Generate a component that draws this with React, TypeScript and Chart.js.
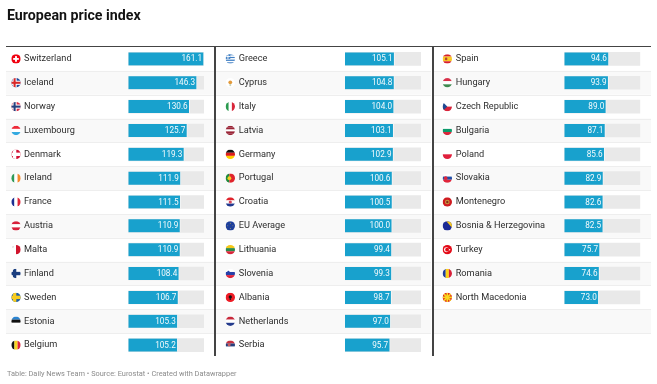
import React, { useEffect, useRef } from "react";
import { Chart, registerables } from "chart.js";

Chart.register(...registerables);

const col1Names = ["Switzerland","Iceland","Norway","Luxembourg","Denmark","Ireland","France","Austria","Malta","Finland","Sweden","Estonia","Belgium"];
const col1Values = [161.1,146.3,130.6,125.7,119.3,111.9,111.5,110.9,110.9,108.4,106.7,105.3,105.2];
const col2Names = ["Greece","Cyprus","Italy","Latvia","Germany","Portugal","Croatia","EU Average","Lithuania","Slovenia","Albania","Netherlands","Serbia"];
const col2Values = [105.1,104.8,104.0,103.1,102.9,100.6,100.5,100.0,99.4,99.3,98.7,97.0,95.7];
const col3Names = ["Spain","Hungary","Czech Republic","Bulgaria","Poland","Slovakia","Montenegro","Bosnia & Herzegovina","Turkey","Romania","North Macedonia","",""];
const col3Values: (number | null)[] = [94.6,93.9,89.0,87.1,85.6,82.9,82.6,82.5,75.7,74.6,73.0,null,null];
const scaleMax = 161.1;

const FONT = "Roboto, sans-serif";
const ROWS_TOP = 47;
const ROWS_H = 310;

type Ctx = CanvasRenderingContext2D;
const h = (...c: string[]) => (x: Ctx, r: number) => {
  c.forEach((col, i) => { x.fillStyle = col; x.fillRect(-r, -r + (2 * r * i) / c.length, 2 * r, (2 * r) / c.length); });
};
const v = (...c: string[]) => (x: Ctx, r: number) => {
  c.forEach((col, i) => { x.fillStyle = col; x.fillRect(-r + (2 * r * i) / c.length, -r, (2 * r) / c.length, 2 * r); });
};
const nordic = (bg: string, cross: string, inner?: string) => (x: Ctx, r: number) => {
  x.fillStyle = bg; x.fillRect(-r, -r, 2 * r, 2 * r);
  x.fillStyle = cross;
  const t = inner ? 0.44 : 0.36;
  x.fillRect(-r, -r * t, 2 * r, r * t * 2); x.fillRect(-r * 0.3 - r * t, -r, r * t * 2, 2 * r);
  if (inner) { x.fillStyle = inner; x.fillRect(-r, -r * 0.22, 2 * r, r * 0.44); x.fillRect(-r * 0.52, -r, r * 0.44, 2 * r); }
};
const dot = (col: string, fx: number, fy: number, fr: number) => (x: Ctx, r: number) => {
  x.fillStyle = col; x.beginPath(); x.arc(fx * r, fy * r, fr * r, 0, Math.PI * 2); x.fill();
};
const tri = (col: string, size: number) => (x: Ctx, r: number) => {
  x.fillStyle = col; x.beginPath(); x.moveTo(-r, -r); x.lineTo(-r + size * r, 0); x.lineTo(-r, r); x.closePath(); x.fill();
};
const all = (...fs: ((x: Ctx, r: number) => void)[]) => (x: Ctx, r: number) => fs.forEach((f) => f(x, r));

const flags: Record<string, (x: Ctx, r: number) => void> = {
  Switzerland: (x, r) => {
    x.fillStyle = "#f0000f"; x.fillRect(-r, -r, 2 * r, 2 * r);
    x.fillStyle = "#fff"; x.fillRect(-r * 0.6, -r * 0.2, r * 1.2, r * 0.4); x.fillRect(-r * 0.2, -r * 0.6, r * 0.4, r * 1.2);
  },
  Iceland: nordic("#1f4a9c", "#ffffff", "#d72828"),
  Norway: nordic("#d8304a", "#ffffff", "#24407e"),
  Luxembourg: h("#ee2a39", "#ffffff", "#33a9e0"),
  Denmark: nordic("#d21034", "#ffffff"),
  Ireland: v("#2f9a58", "#ffffff", "#f58a2c"),
  France: v("#1c2f92", "#ffffff", "#e0273a"),
  Austria: h("#d8203a", "#ffffff", "#d8203a"),
  Malta: all(v("#ffffff", "#d0142c"), dot("#d0c8c8", -0.65, -0.6, 0.18)),
  Finland: nordic("#ffffff", "#1b3f80"),
  Sweden: nordic("#1f62a8", "#f7cc20"),
  Estonia: h("#2a84d2", "#111111", "#ffffff"),
  Belgium: v("#111111", "#f7d51d", "#e0243a"),
  Greece: all(h("#3f7fc4", "#ffffff", "#3f7fc4", "#ffffff", "#3f7fc4", "#ffffff", "#3f7fc4"), (x, r) => { x.fillStyle = "#3f7fc4"; x.fillRect(-r, -r, r, r); x.fillStyle = "#fff"; x.fillRect(-r, -r * 0.6, r, r * 0.2); x.fillRect(-r * 0.6, -r, r * 0.2, r); }),
  Cyprus: all(h("#ffffff"), dot("#e39a3c", 0, -0.1, 0.4), dot("#c9d4b8", 0, 0.5, 0.22)),
  Italy: v("#2a9a4e", "#ffffff", "#d8263a"),
  Latvia: h("#9a2436", "#9a2436", "#ffffff", "#9a2436", "#9a2436"),
  Germany: h("#111111", "#dd1c1c", "#ffce00"),
  Portugal: all((x, r) => { x.fillStyle = "#1f8a3c"; x.fillRect(-r, -r, r * 0.8, 2 * r); x.fillStyle = "#e0242c"; x.fillRect(-r * 0.2, -r, r * 1.2, 2 * r); }, dot("#f4d020", -0.2, 0, 0.4)),
  Croatia: all(h("#e0242c", "#ffffff", "#213a8f"), dot("#d8465a", 0, 0, 0.34)),
  "EU Average": all(h("#1d3f9c"), dot("#e8c840", 0, -0.55, 0.1), dot("#e8c840", 0, 0.55, 0.1), dot("#e8c840", -0.55, 0, 0.1), dot("#e8c840", 0.55, 0, 0.1)),
  Lithuania: h("#f5c818", "#2a8a4c", "#d8263a"),
  Slovenia: all(h("#ffffff", "#2740a8", "#e0243a"), dot("#2740a8", -0.4, -0.35, 0.25)),
  Albania: all(h("#ee1c25"), dot("#141414", 0, -0.1, 0.35), dot("#141414", 0, 0.35, 0.18)),
  Netherlands: h("#c8283a", "#ffffff", "#233a8c"),
  Serbia: all(h("#c8303e", "#27407e", "#ffffff"), dot("#c85a60", -0.25, -0.05, 0.32)),
  Spain: all(h("#d8202c", "#f8c820", "#f8c820", "#d8202c"), dot("#b8452a", -0.25, 0, 0.28)),
  Hungary: h("#d8304a", "#ffffff", "#3f8a50"),
  "Czech Republic": all(h("#ffffff", "#d8243a"), tri("#1f4a92", 1)),
  Bulgaria: h("#ffffff", "#0e9a6c", "#d8263a"),
  Poland: h("#ffffff", "#e0203c"),
  Slovakia: all(h("#ffffff", "#1f4fa8", "#e0243a"), dot("#e0243a", -0.35, 0, 0.38)),
  Montenegro: all(h("#cf1b20"), dot("#c8963c", 0, 0, 0.5), dot("#8a2a1c", 0, 0, 0.25)),
  "Bosnia & Herzegovina": (x, r) => {
    x.fillStyle = "#1c2a94"; x.fillRect(-r, -r, 2 * r, 2 * r);
    x.fillStyle = "#f8c820"; x.beginPath(); x.moveTo(-r * 0.2, -r); x.lineTo(r, -r); x.lineTo(r, r * 0.4); x.closePath(); x.fill();
  },
  Turkey: all(h("#e30a17"), dot("#ffffff", -0.2, 0, 0.52), dot("#e30a17", -0.05, 0, 0.4), dot("#ffffff", 0.5, 0, 0.16)),
  Romania: v("#1f3a9c", "#fcd116", "#d8203a"),
  "North Macedonia": (x, r) => {
    x.fillStyle = "#e0201c"; x.fillRect(-r, -r, 2 * r, 2 * r);
    x.strokeStyle = "#f8d820"; x.lineWidth = r * 0.34;
    [[-r, -r, r, r], [r, -r, -r, r], [-r, 0, r, 0], [0, -r, 0, r]].forEach(([a, b, c, d]) => { x.beginPath(); x.moveTo(a, b); x.lineTo(c, d); x.stroke(); });
    x.fillStyle = "#f8d820"; x.beginPath(); x.arc(0, 0, r * 0.42, 0, Math.PI * 2); x.fill();
  },
};

const rowPlugin = {
  id: "rows",
  beforeDraw(chart: any) {
    const { ctx, width, scales } = chart;
    const y = scales.y;
    const step = y.getPixelForValue(1) - y.getPixelForValue(0);
    ctx.save();
    for (let i = 0; i < 13; i++) {
      const top = y.getPixelForValue(i) - step / 2;
      if (i % 2 === 1) { ctx.fillStyle = "#f9f9f9"; ctx.fillRect(0, top, width, step); }
      if (i > 0) { ctx.fillStyle = "#eeeeee"; ctx.fillRect(0, Math.round(top), width, 1); }
    }
    ctx.restore();
  },
  afterDatasetsDraw(chart: any, _a: any, opts: any) {
    const { ctx, scales } = chart;
    const y = scales.y;
    const x = scales.x;
    const ds = chart.data.datasets[0].data;
    ctx.save();
    ctx.font = `8.2px ${FONT}`;
    ctx.fillStyle = "rgba(255,255,255,0.95)";
    ctx.textAlign = "right";
    ctx.textBaseline = "middle";
    ds.forEach((val: number | null, i: number) => {
      if (val == null) return;
      ctx.fillText(val.toFixed(1), x.getPixelForValue(val) - 2, y.getPixelForValue(i) + 0.5);
    });
    chart.data.labels.forEach((name: string, i: number) => {
      const draw = flags[name];
      if (!draw) return;
      ctx.save();
      ctx.translate(opts.flagX, y.getPixelForValue(i));
      ctx.beginPath();
      ctx.arc(0, 0, 4.7, 0, Math.PI * 2);
      ctx.clip();
      draw(ctx, 4.7);
      ctx.restore();
    });
    ctx.restore();
  },
};

function Column({ left, width, names, values, textX, barLeft, barRight, flagX }: any) {
  const ref = useRef<HTMLCanvasElement>(null);
  useEffect(() => {
    const track = names.map((n: string) => (n ? scaleMax : null));
    const chart = new Chart(ref.current!, {
      type: "bar",
      plugins: [rowPlugin],
      data: {
        labels: names,
        datasets: [
          { data: values, backgroundColor: "#18a1cd", borderColor: "rgba(255,255,255,0.55)", borderWidth: { right: 1 }, barThickness: 13, grouped: false, order: 1 },
          { data: track, backgroundColor: "#e9e9e9", barThickness: 13, grouped: false, order: 2 },
        ],
      },
      options: {
        indexAxis: "y",
        responsive: false,
        animation: false,
        events: [],
        layout: { padding: { left: textX - left, right: left + width - barRight, top: 0, bottom: 0 } },
        plugins: { legend: { display: false }, tooltip: { enabled: false }, title: { display: false }, rows: { flagX: flagX - left } } as any,
        scales: {
          x: { display: false, min: 0, max: scaleMax },
          y: {
            grid: { display: false },
            border: { display: false },
            afterFit: (s: any) => { s.width = barLeft - textX; s.paddingTop = 0; s.paddingBottom = 0; },
            ticks: { autoSkip: false, crossAlign: "far", padding: 0, color: "#2e2e2e", font: { family: FONT, size: 9.2 } },
          },
        },
      } as any,
    });
    return () => chart.destroy();
  }, []);
  return <canvas ref={ref} width={width} height={ROWS_H} style={{ position: "absolute", left, top: ROWS_TOP, width, height: ROWS_H, display: "block" }} />;
}

const rule = (s: React.CSSProperties): React.CSSProperties => ({ position: "absolute", background: "#444", ...s });

export default function App() {
  return (
    <div style={{ position: "absolute", left: 0, top: 0, width: 657, height: 384, overflow: "hidden", background: "#fff", fontFamily: FONT }}>
      <div style={{ position: "absolute", left: 7, top: 6, fontSize: 14.2, lineHeight: "18px", fontWeight: 700, color: "#111", opacity: 0.99, willChange: "opacity" }}>European price index</div>
      <Column left={6} width={208} names={col1Names} values={col1Values} textX={24} barLeft={128.3} barRight={204} flagX={16} />
      <Column left={216} width={215} names={col2Names} values={col2Values} textX={238.7} barLeft={345} barRight={421} flagX={230.3} />
      <Column left={434} width={217} names={col3Names} values={col3Values} textX={455.7} barLeft={564.3} barRight={640.3} flagX={447.3} />
      <div style={rule({ left: 6, top: 46, width: 645, height: 1 })} />
      <div style={rule({ left: 214, top: 46, width: 1.5, height: 310 })} />
      <div style={rule({ left: 432, top: 46, width: 1.5, height: 310 })} />
      <div style={{ position: "absolute", left: 7, top: 368, fontSize: 7.4, lineHeight: "11px", color: "#8a8a8a", opacity: 0.99, willChange: "opacity" }}>Table: Daily News Team • Source: Eurostat • Created with Datawrapper</div>
    </div>
  );
}
